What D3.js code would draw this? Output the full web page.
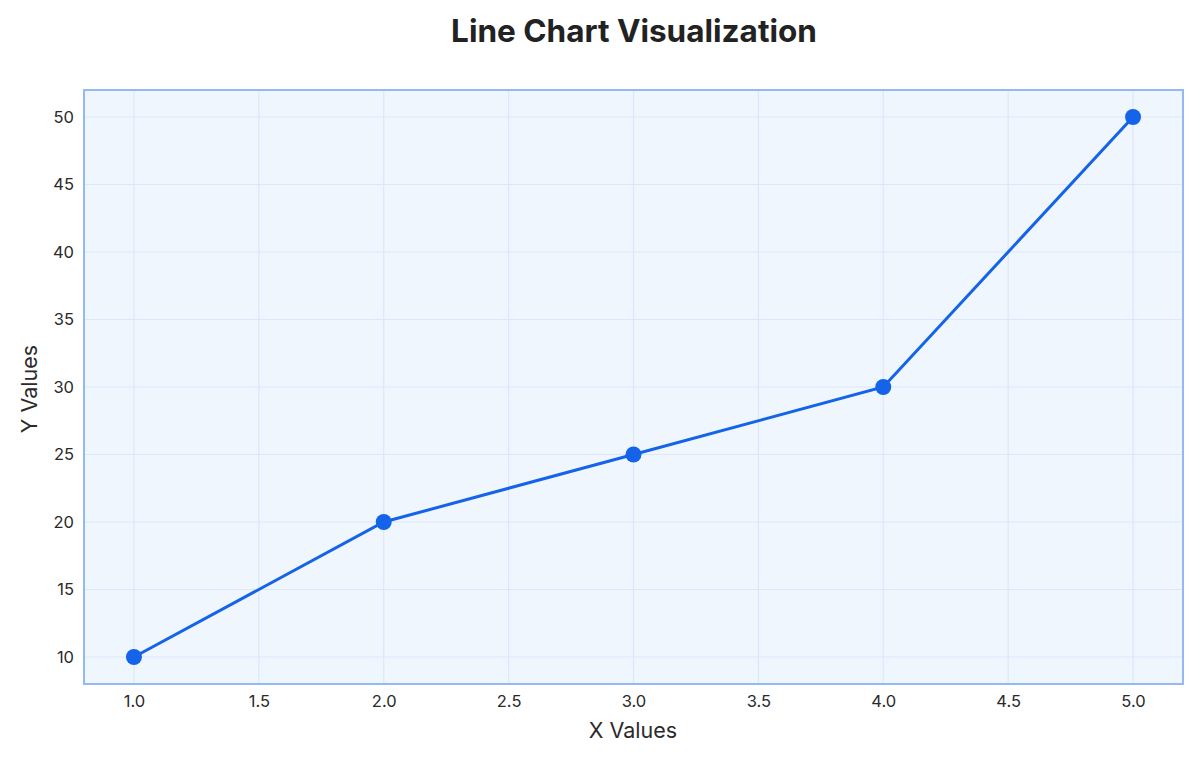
<!DOCTYPE html>
<html><head><meta charset="utf-8">
<script src="https://cdn.jsdelivr.net/npm/d3@7"></script>
<style>body{margin:0;background:#fff;}svg{display:block;}</style>
</head><body>
<svg id="c" width="1200" height="761"></svg>
<script>
const xValues = [1, 2, 3, 4, 5];
const yValues = [10, 20, 25, 30, 50];
const xTicks = [1.0, 1.5, 2.0, 2.5, 3.0, 3.5, 4.0, 4.5, 5.0];
const yTicks = [10, 15, 20, 25, 30, 35, 40, 45, 50];
const titleText = "Line Chart Visualization";
const xLabel = "X Values";
const yLabel = "Y Values";

const svg = d3.select("#c");
const L = 84, R = 1183, T = 90, B = 684;
const x = d3.scaleLinear().domain([0.8, 5.2]).range([L, R]);
const y = d3.scaleLinear().domain([8, 52]).range([B, T]);
const font = "Inter, 'Noto Sans', sans-serif";

svg.append("rect").attr("x", L).attr("y", T).attr("width", R - L).attr("height", B - T)
  .attr("fill", "#f0f6fe");

const g = svg.append("g");
g.selectAll("line.gx").data(xTicks).join("line")
  .attr("x1", d => x(d)).attr("x2", d => x(d)).attr("y1", T).attr("y2", B)
  .attr("stroke", "#dce7fb").attr("stroke-width", 1.2);
g.selectAll("line.gy").data(yTicks).join("line")
  .attr("y1", d => y(d)).attr("y2", d => y(d)).attr("x1", L).attr("x2", R)
  .attr("stroke", "#dce7fb").attr("stroke-width", 1.2);

const xAxis = svg.append("g").attr("transform", `translate(0,${B})`)
  .call(d3.axisBottom(x).tickValues(xTicks).tickFormat(d3.format(".1f")).tickSize(0).tickPadding(11));
const yAxis = svg.append("g").attr("transform", `translate(${L},0)`)
  .call(d3.axisLeft(y).tickValues(yTicks).tickSize(0).tickPadding(10));
[xAxis, yAxis].forEach(a => {
  a.select(".domain").remove();
  a.selectAll("text").attr("font-family", font).attr("font-size", 16.5).attr("fill", "#2a2a2a");
});

svg.append("rect").attr("x", L).attr("y", T).attr("width", R - L).attr("height", B - T)
  .attr("fill", "none").attr("stroke", "#94b9f5").attr("stroke-width", 2);

const pts = xValues.map((v, i) => [v, yValues[i]]);
svg.append("path").datum(pts)
  .attr("d", d3.line().x(d => x(d[0])).y(d => y(d[1])))
  .attr("fill", "none").attr("stroke", "#1463e8").attr("stroke-width", 3);
svg.selectAll("circle.pt").data(pts).join("circle")
  .attr("cx", d => x(d[0])).attr("cy", d => y(d[1])).attr("r", 8)
  .attr("fill", "#1463e8");

svg.append("text").attr("x", 634).attr("y", 42).attr("text-anchor", "middle")
  .attr("font-family", font).attr("font-weight", 700).attr("font-size", 31.5).attr("fill", "#222")
  .text(titleText);
svg.append("text").attr("x", 633).attr("y", 738).attr("text-anchor", "middle")
  .attr("font-family", font).attr("font-size", 21.5).attr("fill", "#2a2a2a").text(xLabel);
svg.append("text").attr("transform", "translate(37,389) rotate(-90)").attr("text-anchor", "middle")
  .attr("font-family", font).attr("font-size", 21.5).attr("fill", "#2a2a2a").text(yLabel);
</script>
</body></html>
